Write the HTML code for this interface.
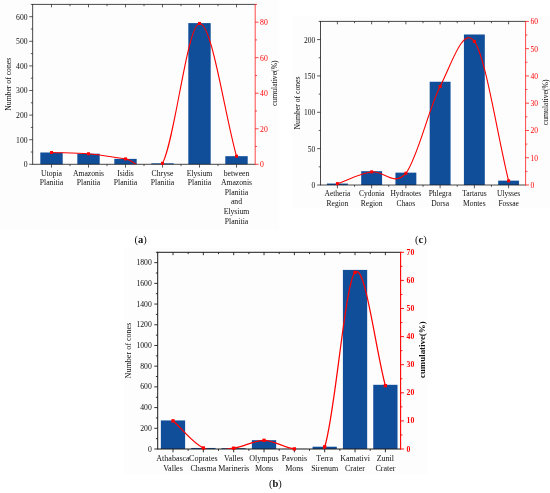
<!DOCTYPE html>
<html><head><meta charset="utf-8"><title>Figure</title>
<style>html,body{margin:0;padding:0;background:#fff}svg{display:block;font-family:"Liberation Serif", serif}</style></head>
<body><svg width="550" height="493" viewBox="0 0 550 493">
<rect width="550" height="493" fill="#fff"/>
<rect x="0" y="0" width="279" height="229" fill="#fdfdfd"/>
<rect x="292.4" y="16.4" width="257.6" height="191" fill="#fdfdfd"/>
<rect x="124" y="247.9" width="303.4" height="226.1" fill="#fdfdfd"/>
<clipPath id="clipa"><rect x="32.65" y="4.4" width="222.55" height="159.9"/></clipPath>
<rect x="40.31" y="152.49" width="22.38" height="11.81" fill="#114e9a"/>
<rect x="77.31" y="153.72" width="22.38" height="10.58" fill="#114e9a"/>
<rect x="114.31" y="158.89" width="22.38" height="5.41" fill="#114e9a"/>
<rect x="151.31" y="163.32" width="22.38" height="0.98" fill="#114e9a"/>
<rect x="188.31" y="23.1" width="22.38" height="141.2" fill="#114e9a"/>
<rect x="225.31" y="156.18" width="22.38" height="8.12" fill="#114e9a"/>
<path d="M32.65 4.4H255.2M32.65 164.3H255.2M32.65 4V164.7" stroke="#1a1a1a" stroke-width="0.8" fill="none"/>
<path d="M255.2 4V164.7" stroke="#ff0000" stroke-width="0.7200000000000001" fill="none"/>
<path d="M51.5 4.4v2.9M51.5 164.3v3.3M88.5 4.4v2.9M88.5 164.3v3.3M125.5 4.4v2.9M125.5 164.3v3.3M162.5 4.4v2.9M162.5 164.3v3.3M199.5 4.4v2.9M199.5 164.3v3.3M236.5 4.4v2.9M236.5 164.3v3.3M70 4.4v1.8M70 164.3v1.8M107 4.4v1.8M107 164.3v1.8M144 4.4v1.8M144 164.3v1.8M181 4.4v1.8M181 164.3v1.8M218 4.4v1.8M218 164.3v1.8M32.65 164.3h-3.4M32.65 139.7h-3.4M32.65 115.1h-3.4M32.65 90.5h-3.4M32.65 65.9h-3.4M32.65 41.3h-3.4M32.65 16.7h-3.4M32.65 152h-1.8M32.65 127.4h-1.8M32.65 102.8h-1.8M32.65 78.2h-1.8M32.65 53.6h-1.8M32.65 29h-1.8M32.65 4.4h-1.8" stroke="#1a1a1a" stroke-width="0.7200000000000001" fill="none"/>
<path d="M255.2 164.3h3.4M255.2 128.77h3.4M255.2 93.23h3.4M255.2 57.7h3.4M255.2 22.17h3.4M255.2 146.53h1.8M255.2 111h1.8M255.2 75.47h1.8M255.2 39.93h1.8M255.2 4.4h1.8" stroke="#ff0000" stroke-width="0.7200000000000001" fill="none"/>
<text x="27.65" y="167.14" font-size="7.7" text-anchor="end" fill="#111">0</text>
<text x="27.65" y="142.54" font-size="7.7" text-anchor="end" fill="#111">100</text>
<text x="27.65" y="117.94" font-size="7.7" text-anchor="end" fill="#111">200</text>
<text x="27.65" y="93.34" font-size="7.7" text-anchor="end" fill="#111">300</text>
<text x="27.65" y="68.74" font-size="7.7" text-anchor="end" fill="#111">400</text>
<text x="27.65" y="44.14" font-size="7.7" text-anchor="end" fill="#111">500</text>
<text x="27.65" y="19.54" font-size="7.7" text-anchor="end" fill="#111">600</text>
<text x="260.1" y="167.14" font-size="7.7" fill="#ff0000">0</text>
<text x="260.1" y="131.61" font-size="7.7" fill="#ff0000">20</text>
<text x="260.1" y="96.07" font-size="7.7" fill="#ff0000">40</text>
<text x="260.1" y="60.54" font-size="7.7" fill="#ff0000">60</text>
<text x="260.1" y="25.01" font-size="7.7" fill="#ff0000">80</text>
<text x="51.5" y="175.5" font-size="7.7" text-anchor="middle" fill="#111">Utopia</text>
<text x="51.5" y="185.15" font-size="7.7" text-anchor="middle" fill="#111">Planitia</text>
<text x="88.5" y="175.5" font-size="7.7" text-anchor="middle" fill="#111">Amazonis</text>
<text x="88.5" y="185.15" font-size="7.7" text-anchor="middle" fill="#111">Planitia</text>
<text x="125.5" y="175.5" font-size="7.7" text-anchor="middle" fill="#111">Isidis</text>
<text x="125.5" y="185.15" font-size="7.7" text-anchor="middle" fill="#111">Planitia</text>
<text x="162.5" y="175.5" font-size="7.7" text-anchor="middle" fill="#111">Chryse</text>
<text x="162.5" y="185.15" font-size="7.7" text-anchor="middle" fill="#111">Planitia</text>
<text x="199.5" y="175.5" font-size="7.7" text-anchor="middle" fill="#111">Elysium</text>
<text x="199.5" y="185.15" font-size="7.7" text-anchor="middle" fill="#111">Planitia</text>
<text x="236.5" y="175.5" font-size="7.7" text-anchor="middle" fill="#111">between</text>
<text x="236.5" y="185.15" font-size="7.7" text-anchor="middle" fill="#111">Amazonis</text>
<text x="236.5" y="194.8" font-size="7.7" text-anchor="middle" fill="#111">Planitia</text>
<text x="236.5" y="204.45" font-size="7.7" text-anchor="middle" fill="#111">and</text>
<text x="236.5" y="214.1" font-size="7.7" text-anchor="middle" fill="#111">Elysium</text>
<text x="236.5" y="223.75" font-size="7.7" text-anchor="middle" fill="#111">Planitia</text>
<text transform="translate(10.8 84.3) rotate(-90)" font-size="7.7" text-anchor="middle" fill="#111">Number of cones</text>
<text transform="translate(276.8 83.2) rotate(-90)" font-size="7.7" text-anchor="middle" fill="#111">cumulative(%)</text>
<path d="M51.5 152.52C63.83 152.93 76.17 152.68 88.5 153.75C100.83 154.81 113.17 157.31 125.5 158.9C137.83 160.5 150.17 185.89 162.5 163.32C174.83 140.74 187.17 24.63 199.5 23.44C211.83 22.26 224.17 111.95 236.5 156.2" stroke="#ff0000" stroke-width="1.1" fill="none" clip-path="url(#clipa)" stroke-linejoin="round"/>
<rect x="50" y="151.02" width="3.0" height="3.0" fill="#ff0000"/>
<rect x="87" y="152.25" width="3.0" height="3.0" fill="#ff0000"/>
<rect x="124" y="157.4" width="3.0" height="3.0" fill="#ff0000"/>
<rect x="161" y="161.82" width="3.0" height="3.0" fill="#ff0000"/>
<rect x="198" y="21.94" width="3.0" height="3.0" fill="#ff0000"/>
<rect x="235" y="154.7" width="3.0" height="3.0" fill="#ff0000"/>
<clipPath id="clipc"><rect x="320.5" y="21.4" width="205.1" height="163.6"/></clipPath>
<rect x="326.96" y="183.55" width="20.89" height="1.45" fill="#114e9a"/>
<rect x="361.2" y="171.18" width="20.89" height="13.82" fill="#114e9a"/>
<rect x="395.44" y="172.64" width="20.89" height="12.36" fill="#114e9a"/>
<rect x="429.68" y="81.75" width="20.89" height="103.25" fill="#114e9a"/>
<rect x="463.92" y="34.49" width="20.89" height="150.51" fill="#114e9a"/>
<rect x="498.16" y="180.64" width="20.89" height="4.36" fill="#114e9a"/>
<path d="M320.5 21.4H525.6M320.5 185H525.6M320.5 21V185.4" stroke="#1a1a1a" stroke-width="0.8" fill="none"/>
<path d="M525.6 21V185.4" stroke="#ff0000" stroke-width="0.7200000000000001" fill="none"/>
<path d="M337.4 21.4v2.9M337.4 185v3.3M371.64 21.4v2.9M371.64 185v3.3M405.88 21.4v2.9M405.88 185v3.3M440.12 21.4v2.9M440.12 185v3.3M474.36 21.4v2.9M474.36 185v3.3M508.6 21.4v2.9M508.6 185v3.3M354.52 21.4v1.8M354.52 185v1.8M388.76 21.4v1.8M388.76 185v1.8M423 21.4v1.8M423 185v1.8M457.24 21.4v1.8M457.24 185v1.8M491.48 21.4v1.8M491.48 185v1.8M320.5 185h-3.4M320.5 148.64h-3.4M320.5 112.29h-3.4M320.5 75.93h-3.4M320.5 39.58h-3.4M320.5 166.82h-1.8M320.5 130.47h-1.8M320.5 94.11h-1.8M320.5 57.76h-1.8M320.5 21.4h-1.8" stroke="#1a1a1a" stroke-width="0.7200000000000001" fill="none"/>
<path d="M525.6 185h3.4M525.6 157.73h3.4M525.6 130.47h3.4M525.6 103.2h3.4M525.6 75.93h3.4M525.6 48.67h3.4M525.6 21.4h3.4M525.6 171.37h1.8M525.6 144.1h1.8M525.6 116.83h1.8M525.6 89.57h1.8M525.6 62.3h1.8M525.6 35.03h1.8" stroke="#ff0000" stroke-width="0.7200000000000001" fill="none"/>
<text x="315.2" y="187.97" font-size="7.5" text-anchor="end" fill="#111">0</text>
<text x="315.2" y="151.62" font-size="7.5" text-anchor="end" fill="#111">50</text>
<text x="315.2" y="115.26" font-size="7.5" text-anchor="end" fill="#111">100</text>
<text x="315.2" y="78.91" font-size="7.5" text-anchor="end" fill="#111">150</text>
<text x="315.2" y="42.55" font-size="7.5" text-anchor="end" fill="#111">200</text>
<text x="530.4" y="187.97" font-size="7.5" fill="#ff0000">0</text>
<text x="530.4" y="160.71" font-size="7.5" fill="#ff0000">10</text>
<text x="530.4" y="133.44" font-size="7.5" fill="#ff0000">20</text>
<text x="530.4" y="106.17" font-size="7.5" fill="#ff0000">30</text>
<text x="530.4" y="78.91" font-size="7.5" fill="#ff0000">40</text>
<text x="530.4" y="51.64" font-size="7.5" fill="#ff0000">50</text>
<text x="530.4" y="24.38" font-size="7.5" fill="#ff0000">60</text>
<text x="337.4" y="196.1" font-size="7.5" text-anchor="middle" fill="#111">Aetheria</text>
<text x="337.4" y="205.7" font-size="7.5" text-anchor="middle" fill="#111">Region</text>
<text x="371.64" y="196.1" font-size="7.5" text-anchor="middle" fill="#111">Cydonia</text>
<text x="371.64" y="205.7" font-size="7.5" text-anchor="middle" fill="#111">Region</text>
<text x="405.88" y="196.1" font-size="7.5" text-anchor="middle" fill="#111">Hydraotes</text>
<text x="405.88" y="205.7" font-size="7.5" text-anchor="middle" fill="#111">Chaos</text>
<text x="440.12" y="196.1" font-size="7.5" text-anchor="middle" fill="#111">Phlegra</text>
<text x="440.12" y="205.7" font-size="7.5" text-anchor="middle" fill="#111">Dorsa</text>
<text x="474.36" y="196.1" font-size="7.5" text-anchor="middle" fill="#111">Tartarus</text>
<text x="474.36" y="205.7" font-size="7.5" text-anchor="middle" fill="#111">Montes</text>
<text x="508.6" y="196.1" font-size="7.5" text-anchor="middle" fill="#111">Ulysses</text>
<text x="508.6" y="205.7" font-size="7.5" text-anchor="middle" fill="#111">Fossae</text>
<text transform="translate(299.8 103) rotate(-90)" font-size="7.7" text-anchor="middle" fill="#111">Number of cones</text>
<text transform="translate(547.6 102.3) rotate(-90)" font-size="7.7" text-anchor="middle" fill="#111">cumulative(%)</text>
<path d="M337.4 183.61C348.81 179.68 360.23 173.55 371.64 171.82C383.05 170.08 394.47 187.43 405.88 173.21C417.29 158.98 428.71 108.45 440.12 86.48C451.53 64.51 462.95 25.66 474.36 41.38C485.77 57.11 497.19 134.35 508.6 180.84" stroke="#ff0000" stroke-width="1.1" fill="none" clip-path="url(#clipc)" stroke-linejoin="round"/>
<rect x="335.9" y="182.11" width="3.0" height="3.0" fill="#ff0000"/>
<rect x="370.14" y="170.32" width="3.0" height="3.0" fill="#ff0000"/>
<rect x="404.38" y="171.71" width="3.0" height="3.0" fill="#ff0000"/>
<rect x="438.62" y="84.98" width="3.0" height="3.0" fill="#ff0000"/>
<rect x="472.86" y="39.88" width="3.0" height="3.0" fill="#ff0000"/>
<rect x="507.1" y="179.34" width="3.0" height="3.0" fill="#ff0000"/>
<clipPath id="clipb"><rect x="157.7" y="252.3" width="242.9" height="196.7"/></clipPath>
<rect x="160.86" y="420.43" width="24.27" height="28.57" fill="#114e9a"/>
<rect x="191.2" y="447.96" width="24.27" height="1.04" fill="#114e9a"/>
<rect x="221.54" y="448.17" width="24.27" height="0.83" fill="#114e9a"/>
<rect x="251.88" y="440.2" width="24.27" height="8.8" fill="#114e9a"/>
<rect x="282.22" y="448.9" width="24.27" height="0.1" fill="#114e9a"/>
<rect x="312.56" y="446.72" width="24.27" height="2.28" fill="#114e9a"/>
<rect x="342.9" y="269.9" width="24.27" height="179.1" fill="#114e9a"/>
<rect x="373.24" y="384.81" width="24.27" height="64.19" fill="#114e9a"/>
<path d="M157.7 252.3H400.6M157.7 449H400.6M157.7 251.8V449.5" stroke="#1a1a1a" stroke-width="1.0" fill="none"/>
<path d="M400.6 251.8V449.5" stroke="#ff0000" stroke-width="1.1" fill="none"/>
<path d="M173 252.3v2.9M173 449v3.3M203.34 252.3v2.9M203.34 449v3.3M233.68 252.3v2.9M233.68 449v3.3M264.02 252.3v2.9M264.02 449v3.3M294.36 252.3v2.9M294.36 449v3.3M324.7 252.3v2.9M324.7 449v3.3M355.04 252.3v2.9M355.04 449v3.3M385.38 252.3v2.9M385.38 449v3.3M188.17 252.3v1.8M188.17 449v1.8M218.51 252.3v1.8M218.51 449v1.8M248.85 252.3v1.8M248.85 449v1.8M279.19 252.3v1.8M279.19 449v1.8M309.53 252.3v1.8M309.53 449v1.8M339.87 252.3v1.8M339.87 449v1.8M370.21 252.3v1.8M370.21 449v1.8M157.7 449h-3.4M157.7 428.29h-3.4M157.7 407.59h-3.4M157.7 386.88h-3.4M157.7 366.18h-3.4M157.7 345.47h-3.4M157.7 324.77h-3.4M157.7 304.06h-3.4M157.7 283.36h-3.4M157.7 262.65h-3.4M157.7 438.65h-1.8M157.7 417.94h-1.8M157.7 397.24h-1.8M157.7 376.53h-1.8M157.7 355.83h-1.8M157.7 335.12h-1.8M157.7 314.42h-1.8M157.7 293.71h-1.8M157.7 273.01h-1.8M157.7 252.3h-1.8" stroke="#1a1a1a" stroke-width="0.9" fill="none"/>
<path d="M400.6 449h3.4M400.6 420.9h3.4M400.6 392.8h3.4M400.6 364.7h3.4M400.6 336.6h3.4M400.6 308.5h3.4M400.6 280.4h3.4M400.6 252.3h3.4M400.6 434.95h1.8M400.6 406.85h1.8M400.6 378.75h1.8M400.6 350.65h1.8M400.6 322.55h1.8M400.6 294.45h1.8M400.6 266.35h1.8" stroke="#ff0000" stroke-width="0.9" fill="none"/>
<text x="151.8" y="451.54" font-size="7.7" text-anchor="end" fill="#111">0</text>
<text x="151.8" y="430.84" font-size="7.7" text-anchor="end" fill="#111">200</text>
<text x="151.8" y="410.13" font-size="7.7" text-anchor="end" fill="#111">400</text>
<text x="151.8" y="389.43" font-size="7.7" text-anchor="end" fill="#111">600</text>
<text x="151.8" y="368.72" font-size="7.7" text-anchor="end" fill="#111">800</text>
<text x="151.8" y="348.01" font-size="7.7" text-anchor="end" fill="#111">1000</text>
<text x="151.8" y="327.31" font-size="7.7" text-anchor="end" fill="#111">1200</text>
<text x="151.8" y="306.6" font-size="7.7" text-anchor="end" fill="#111">1400</text>
<text x="151.8" y="285.9" font-size="7.7" text-anchor="end" fill="#111">1600</text>
<text x="151.8" y="265.19" font-size="7.7" text-anchor="end" fill="#111">1800</text>
<text x="406.6" y="451.54" font-size="7.7" fill="#ff0000" font-weight="bold">0</text>
<text x="406.6" y="423.44" font-size="7.7" fill="#ff0000" font-weight="bold">10</text>
<text x="406.6" y="395.34" font-size="7.7" fill="#ff0000" font-weight="bold">20</text>
<text x="406.6" y="367.24" font-size="7.7" fill="#ff0000" font-weight="bold">30</text>
<text x="406.6" y="339.14" font-size="7.7" fill="#ff0000" font-weight="bold">40</text>
<text x="406.6" y="311.04" font-size="7.7" fill="#ff0000" font-weight="bold">50</text>
<text x="406.6" y="282.94" font-size="7.7" fill="#ff0000" font-weight="bold">60</text>
<text x="406.6" y="254.84" font-size="7.7" fill="#ff0000" font-weight="bold">70</text>
<text x="173" y="461.4" font-size="8.0" text-anchor="middle" fill="#111">Athabasca</text>
<text x="173" y="471.4" font-size="8.0" text-anchor="middle" fill="#111">Valles</text>
<text x="203.34" y="461.4" font-size="8.0" text-anchor="middle" fill="#111">Coprates</text>
<text x="203.34" y="471.4" font-size="8.0" text-anchor="middle" fill="#111">Chasma</text>
<text x="233.68" y="461.4" font-size="8.0" text-anchor="middle" fill="#111">Valles</text>
<text x="233.68" y="471.4" font-size="8.0" text-anchor="middle" fill="#111">Marineris</text>
<text x="264.02" y="461.4" font-size="8.0" text-anchor="middle" fill="#111">Olympus</text>
<text x="264.02" y="471.4" font-size="8.0" text-anchor="middle" fill="#111">Mons</text>
<text x="294.36" y="461.4" font-size="8.0" text-anchor="middle" fill="#111">Pavonis</text>
<text x="294.36" y="471.4" font-size="8.0" text-anchor="middle" fill="#111">Mons</text>
<text x="324.7" y="461.4" font-size="8.0" text-anchor="middle" fill="#111">Terra</text>
<text x="324.7" y="471.4" font-size="8.0" text-anchor="middle" fill="#111">Sirenum</text>
<text x="355.04" y="461.4" font-size="8.0" text-anchor="middle" fill="#111">Kamativi</text>
<text x="355.04" y="471.4" font-size="8.0" text-anchor="middle" fill="#111">Crater</text>
<text x="385.38" y="461.4" font-size="8.0" text-anchor="middle" fill="#111">Zunil</text>
<text x="385.38" y="471.4" font-size="8.0" text-anchor="middle" fill="#111">Crater</text>
<text transform="translate(130.5 350.5) rotate(-90)" font-size="8.1" text-anchor="middle" fill="#111">Number of cones</text>
<text transform="translate(425.3 349.7) rotate(-90)" font-size="8.9" text-anchor="middle" fill="#111" font-weight="bold">cumulative(%)</text>
<path d="M173 420.82C183.11 429.87 193.23 443.42 203.34 447.98C213.45 452.54 223.57 449.46 233.68 448.18C243.79 446.91 253.91 440.2 264.02 440.32C274.13 440.44 284.25 447.83 294.36 448.9C304.47 449.97 314.59 476.18 324.7 446.75C334.81 417.33 344.93 282.53 355.04 272.35C365.15 262.18 375.27 347.91 385.38 385.69" stroke="#ff0000" stroke-width="1.25" fill="none" clip-path="url(#clipb)" stroke-linejoin="round"/>
<rect x="171.35" y="419.17" width="3.3" height="3.3" fill="#ff0000"/>
<rect x="201.69" y="446.33" width="3.3" height="3.3" fill="#ff0000"/>
<rect x="232.03" y="446.53" width="3.3" height="3.3" fill="#ff0000"/>
<rect x="262.37" y="438.67" width="3.3" height="3.3" fill="#ff0000"/>
<rect x="292.71" y="447.25" width="3.3" height="3.3" fill="#ff0000"/>
<rect x="323.05" y="445.1" width="3.3" height="3.3" fill="#ff0000"/>
<rect x="353.39" y="270.7" width="3.3" height="3.3" fill="#ff0000"/>
<rect x="383.73" y="384.04" width="3.3" height="3.3" fill="#ff0000"/>
<text x="140.7" y="243" font-size="10.5" text-anchor="middle" fill="#111">(<tspan font-weight="bold">a</tspan>)</text>
<text x="420.8" y="242.5" font-size="10.5" text-anchor="middle" fill="#111">(<tspan font-weight="bold">c</tspan>)</text>
<text x="275.3" y="487" font-size="10.5" text-anchor="middle" fill="#111">(<tspan font-weight="bold">b</tspan>)</text>
</svg></body></html>
